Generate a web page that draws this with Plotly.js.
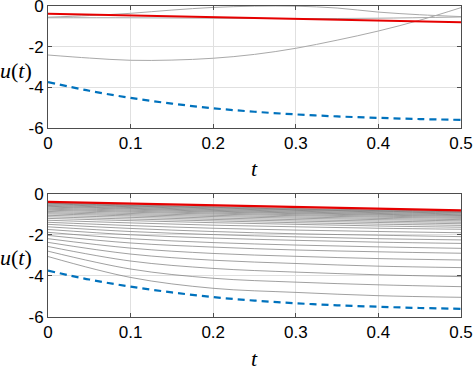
<!DOCTYPE html>
<html>
<head>
<meta charset="utf-8">
<script src="https://cdn.plot.ly/plotly-3.0.1.min.js"></script>
<style>html,body{margin:0;padding:0;background:#fff;}#chart{width:474px;height:386px;}</style>
</head>
<body>
<div id="chart"></div>
<script>
// ---- data ----
const tFine = [0, 0.05, 0.1, 0.15, 0.2, 0.25, 0.3, 0.35, 0.4, 0.45, 0.5];
const tCoarse = [0, 0.1, 0.2, 0.3, 0.4, 0.5];

const uRed = [-0.38, -0.46, -0.55, -0.63, -0.72, -0.80];
const uBlue = [-3.74, -4.17, -4.52, -4.80, -5.03, -5.20, -5.33, -5.43, -5.50, -5.56, -5.60];

// top panel: three grey curves
const topGrayA = [-0.58, -0.58, -0.60, -0.62, -0.60, -0.54];
const topGrayB = [-0.55, -0.47, -0.36, -0.20, -0.07, -0.01, -0.01, -0.10, -0.30, -0.43, -0.52];
const topGrayC = [-2.41, -2.56, -2.67, -2.66, -2.57, -2.38, -2.08, -1.68, -1.23, -0.70, -0.08];

// bottom panel: family of grey curves (values at tCoarse)
const bottomFamily = [
  [-0.42, -0.53, -0.62, -0.71, -0.78, -0.84],
  [-0.45, -0.56, -0.65, -0.74, -0.81, -0.87],
  [-0.48, -0.59, -0.68, -0.77, -0.84, -0.90],
  [-0.52, -0.62, -0.72, -0.80, -0.87, -0.93],
  [-0.56, -0.66, -0.76, -0.84, -0.91, -0.97],
  [-0.60, -0.70, -0.80, -0.88, -0.95, -1.01],
  [-0.64, -0.74, -0.84, -0.92, -0.99, -1.05],
  [-0.69, -0.79, -0.88, -0.96, -1.03, -1.09],
  [-0.74, -0.84, -0.93, -1.01, -1.08, -1.14],
  [-0.79, -0.89, -0.98, -1.06, -1.13, -1.19],
  [-0.85, -0.95, -1.04, -1.12, -1.19, -1.25],
  [-0.91, -1.01, -1.10, -1.18, -1.25, -1.31],
  [-0.97, -1.07, -1.17, -1.25, -1.32, -1.38],
  [-1.04, -1.14, -1.24, -1.32, -1.39, -1.45],
  [-1.11, -1.22, -1.31, -1.40, -1.47, -1.53],
  [-1.19, -1.30, -1.40, -1.48, -1.56, -1.62],
  [-1.28, -1.41, -1.52, -1.60, -1.67, -1.72],
  [-1.38, -1.54, -1.67, -1.76, -1.83, -1.89],
  [-1.48, -1.68, -1.83, -1.94, -2.01, -2.08],
  [-1.60, -1.83, -1.98, -2.09, -2.18, -2.24],
  [-1.73, -1.99, -2.15, -2.26, -2.35, -2.41],
  [-1.87, -2.18, -2.37, -2.49, -2.58, -2.65],
  [-2.02, -2.39, -2.59, -2.73, -2.82, -2.89],
  [-2.18, -2.64, -2.90, -3.04, -3.15, -3.22],
  [-2.36, -2.93, -3.23, -3.39, -3.52, -3.59],
  [-2.56, -3.27, -3.63, -3.81, -3.94, -4.03],
  [-2.79, -3.66, -4.11, -4.30, -4.43, -4.52],
  [-3.05, -4.07, -4.60, -4.80, -4.96, -5.04]
];

const yTickVals = [0, -2, -4, -6];
const yTickText = ['0', '-2', '-4', '-6'];
const xTickVals = [0, 0.1, 0.2, 0.3, 0.4, 0.5];
const xTickText = ['0', '0.1', '0.2', '0.3', '0.4', '0.5'];

// ---- traces ----
const traces = [];
const grayTop = {color: '#a9a9a9', width: 1, shape: 'spline', smoothing: 1};
traces.push({x: tCoarse, y: topGrayA, xaxis: 'x', yaxis: 'y', mode: 'lines', line: grayTop, hoverinfo: 'skip'});
traces.push({x: tFine, y: topGrayB, xaxis: 'x', yaxis: 'y', mode: 'lines', line: grayTop, hoverinfo: 'skip'});
traces.push({x: tFine, y: topGrayC, xaxis: 'x', yaxis: 'y', mode: 'lines', line: grayTop, hoverinfo: 'skip'});
traces.push({x: tFine, y: uBlue, xaxis: 'x', yaxis: 'y', mode: 'lines',
  line: {color: '#0072BD', width: 2.2, dash: '7px,5px', shape: 'spline'}, hoverinfo: 'skip'});
traces.push({x: tCoarse, y: uRed, xaxis: 'x', yaxis: 'y', mode: 'lines',
  line: {color: '#e60000', width: 2.2}, hoverinfo: 'skip'});

bottomFamily.forEach(function (vals) {
  traces.push({x: tCoarse, y: vals, xaxis: 'x2', yaxis: 'y2', mode: 'lines',
    line: {color: 'rgba(105,105,105,0.8)', width: 0.8, shape: 'spline', smoothing: 1}, hoverinfo: 'skip'});
});
traces.push({x: tFine, y: uBlue, xaxis: 'x2', yaxis: 'y2', mode: 'lines',
  line: {color: '#0072BD', width: 2.2, dash: '7px,5px', shape: 'spline'}, hoverinfo: 'skip'});
traces.push({x: tCoarse, y: uRed, xaxis: 'x2', yaxis: 'y2', mode: 'lines',
  line: {color: '#e60000', width: 2.2}, hoverinfo: 'skip'});

const tickFont = {family: 'Liberation Sans', size: 17, color: '#000'};
function xAx(anchor) {
  return {
    anchor: anchor, domain: [0, 1], range: [0, 0.5],
    tickvals: xTickVals, ticktext: xTickText, tickfont: tickFont, ticklabeloverflow: 'allow',
    ticks: 'inside', ticklen: 4, tickcolor: '#4d4d4d', tickwidth: 1,
    showline: true, linecolor: '#4d4d4d', linewidth: 1, mirror: 'ticks',
    showgrid: true, gridcolor: '#e0e0e0', gridwidth: 1, zeroline: false, fixedrange: true
  };
}
function yAx(anchor, dom) {
  return {
    anchor: anchor, domain: dom, range: [-6, 0],
    tickvals: yTickVals, ticktext: yTickText, tickfont: tickFont, ticklabeloverflow: 'allow',
    ticks: 'inside', ticklen: 4, tickcolor: '#4d4d4d', tickwidth: 1,
    showline: true, linecolor: '#4d4d4d', linewidth: 1, mirror: 'ticks',
    showgrid: true, gridcolor: '#e0e0e0', gridwidth: 1, zeroline: false, fixedrange: true
  };
}

const labelFont = {family: 'Liberation Serif', size: 22, color: '#000'};
const layout = {
  width: 474, height: 386,
  margin: {l: 48, r: 13, t: 6, b: 69, pad: 0},
  paper_bgcolor: '#fff', plot_bgcolor: '#fff',
  showlegend: false,
  xaxis: xAx('y'), yaxis: yAx('x', [0.6077, 1]),
  xaxis2: xAx('y2'), yaxis2: yAx('x2', [0, 0.3955]),
  annotations: [
    {text: '<i>u</i>(<i>t</i>)', xref: 'paper', yref: 'paper', x: -0.077, y: 0.794,
     xanchor: 'center', yanchor: 'middle', showarrow: false, font: labelFont},
    {text: '<i>t</i>', xref: 'paper', yref: 'paper', x: 0.5, y: 0.479,
     xanchor: 'center', yanchor: 'middle', showarrow: false, font: labelFont},
    {text: '<i>u</i>(<i>t</i>)', xref: 'paper', yref: 'paper', x: -0.077, y: 0.19,
     xanchor: 'center', yanchor: 'middle', showarrow: false, font: labelFont},
    {text: '<i>t</i>', xref: 'paper', yref: 'paper', x: 0.5, y: -0.132,
     xanchor: 'center', yanchor: 'middle', showarrow: false, font: labelFont}
  ]
};

Plotly.newPlot('chart', traces, layout, {staticPlot: true, displayModeBar: false});
</script>
</body>
</html>
